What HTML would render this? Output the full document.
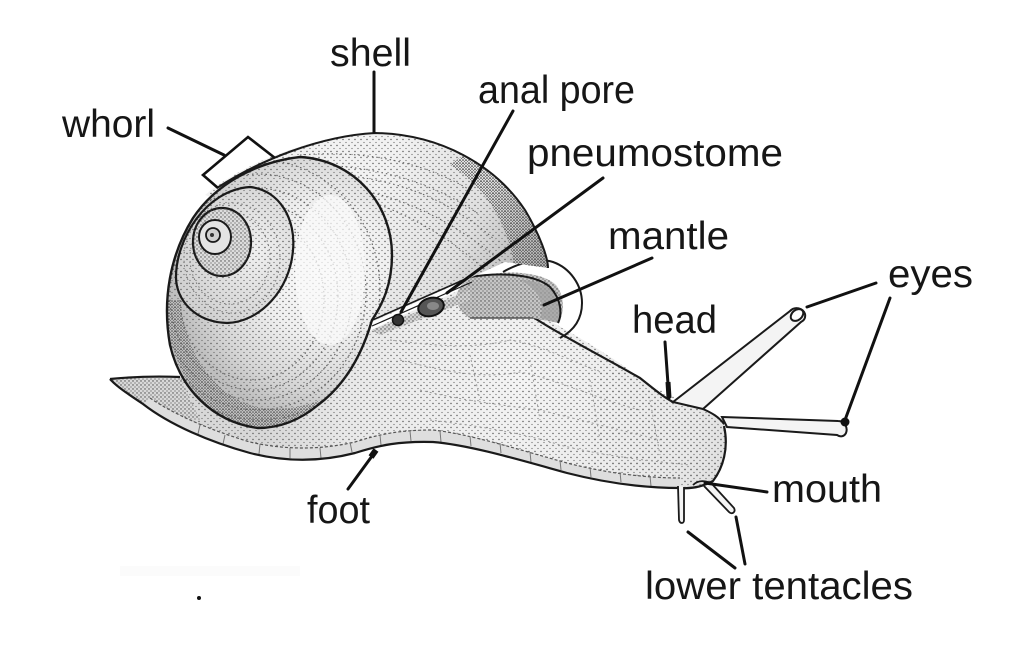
<!DOCTYPE html>
<html>
<head>
<meta charset="utf-8">
<style>
html,body{margin:0;padding:0;background:#fff;}
svg{display:block;}
text{font-family:"Liberation Sans",Arial,sans-serif;font-size:39px;fill:#161616;}
</style>
</head>
<body>
<svg width="1024" height="646" viewBox="0 0 1024 646" xmlns="http://www.w3.org/2000/svg">
<defs>
  <pattern id="dotL" width="6" height="6" patternUnits="userSpaceOnUse">
    <circle cx="1" cy="1.5" r="0.7" fill="#555"/>
    <circle cx="4" cy="4.5" r="0.6" fill="#666"/>
  </pattern>
  <pattern id="dotM" width="4" height="4" patternUnits="userSpaceOnUse">
    <circle cx="1" cy="1" r="0.7" fill="#444"/>
    <circle cx="3" cy="3" r="0.6" fill="#555"/>
  </pattern>
  <pattern id="dotD" width="3" height="3" patternUnits="userSpaceOnUse">
    <circle cx="1" cy="1" r="0.8" fill="#333"/>
    <circle cx="2.5" cy="2.4" r="0.5" fill="#444"/>
  </pattern>
  <linearGradient id="domeG" x1="380" y1="180" x2="548" y2="255" gradientUnits="userSpaceOnUse">
    <stop offset="0" stop-color="#f2f2f2"/>
    <stop offset="0.55" stop-color="#e0e0e0"/>
    <stop offset="1" stop-color="#b0b0b0"/>
  </linearGradient>
  <radialGradient id="ovalG" cx="325" cy="270" r="150" gradientUnits="userSpaceOnUse">
    <stop offset="0" stop-color="#fbfbfb"/>
    <stop offset="0.45" stop-color="#efefef"/>
    <stop offset="0.8" stop-color="#d6d6d6"/>
    <stop offset="1" stop-color="#bfbfbf"/>
  </radialGradient>
  <radialGradient id="whorl2G" cx="255" cy="250" r="80" gradientUnits="userSpaceOnUse">
    <stop offset="0" stop-color="#f0f0f0"/>
    <stop offset="1" stop-color="#d2d2d2"/>
  </radialGradient>
  <radialGradient id="bodyG" cx="520" cy="380" r="260" gradientUnits="userSpaceOnUse">
    <stop offset="0" stop-color="#f4f4f4"/>
    <stop offset="0.7" stop-color="#e8e8e8"/>
    <stop offset="1" stop-color="#d8d8d8"/>
  </radialGradient>
  <clipPath id="ovalClip">
    <path d="M300,157 C355,160 392,205 392,255 C392,285 382,305 372,320 C362,355 345,385 318,405 C300,420 280,428 258,428 C212,422 180,388 170,345 C162,300 170,255 193,218 C215,185 255,162 300,157 Z"/>
  </clipPath>
  <clipPath id="domeClip">
    <path d="M205,195 C240,165 310,136 375,133 C440,134 495,165 525,210 C540,235 548,258 548,268 L505,262 L470,278 L372,322 L392,255 Z"/>
  </clipPath>
</defs>

<rect width="1024" height="646" fill="#fff"/>

<!-- faint smudges bottom-left -->
<rect x="120" y="566" width="180" height="10" fill="#fbfbfb"/>
<circle cx="199" cy="598" r="2" fill="#111"/>

<!-- ================= BODY ================= -->
<path d="M110,379 C130,377 155,376 180,377 L372,330 C400,315 440,300 470,285 C500,282 530,300 545,318 C575,335 610,355 640,378 C655,390 665,398 675,402 L703,409 C712,413 719,417 724,424 C729,448 723,468 713,481 C702,487 692,489 680,488 C650,488 610,484 567,473 C520,460 470,445 433,442 C400,441 380,445 355,453 C320,462 285,462 250,453 C210,442 170,425 143,404 C128,394 116,386 110,379 Z"
      fill="url(#bodyG)" stroke="none"/>
<path d="M110,379 C130,377 155,376 180,377 L372,330 C400,315 440,300 470,285 C500,282 530,300 545,318 C575,335 610,355 640,378 C655,390 665,398 675,402 L703,409 C712,413 719,417 724,424 C729,448 723,468 713,481 C702,487 692,489 680,488 C650,488 610,484 567,473 C520,460 470,445 433,442 C400,441 380,445 355,453 C320,462 285,462 250,453 C210,442 170,425 143,404 C128,394 116,386 110,379 Z"
      fill="url(#dotL)"/>
<!-- head darker stipple -->
<path d="M600,360 C640,380 680,400 720,420 C728,450 722,470 712,482 C680,490 630,485 590,478 Z" fill="url(#dotL)" opacity="0.9"/>
<!-- tail -->
<path d="M110,379 C130,377 155,376 180,377 L200,420 C180,420 150,410 143,404 C128,394 116,386 110,379 Z" fill="#d8d8d8"/>
<path d="M110,379 C130,377 155,376 180,377 L200,420 C180,420 150,410 143,404 C128,394 116,386 110,379 Z" fill="url(#dotM)"/>
<!-- foot fringe band -->
<path d="M143,404 C170,425 210,442 250,453 C285,462 320,462 355,453 C380,445 400,441 433,442 C470,445 520,460 567,473 C610,484 650,488 680,488 L680,478 C650,478 610,474 567,463 C520,450 470,434 433,430 C400,430 380,434 355,442 C320,450 285,450 250,442 C210,430 175,415 150,398 Z" fill="#dedede"/>
<path d="M150,398 C175,415 210,430 250,442 C285,450 320,450 355,442 C380,434 400,430 433,430 C470,434 520,450 567,463 C610,474 650,478 680,478" fill="none" stroke="#555" stroke-width="1.2" stroke-dasharray="3 2"/>
<g stroke="#777" stroke-width="1">
  <line x1="200" y1="425" x2="198" y2="434"/><line x1="225" y1="435" x2="223" y2="444"/>
  <line x1="260" y1="444" x2="259" y2="454"/><line x1="290" y1="448" x2="290" y2="458"/>
  <line x1="320" y1="448" x2="321" y2="458"/><line x1="350" y1="442" x2="352" y2="452"/>
  <line x1="380" y1="435" x2="381" y2="445"/><line x1="410" y1="431" x2="411" y2="441"/>
  <line x1="440" y1="431" x2="441" y2="442"/><line x1="470" y1="436" x2="471" y2="446"/>
  <line x1="500" y1="443" x2="501" y2="453"/><line x1="530" y1="452" x2="531" y2="462"/>
  <line x1="560" y1="460" x2="561" y2="470"/><line x1="590" y1="467" x2="591" y2="477"/>
  <line x1="620" y1="472" x2="621" y2="482"/><line x1="650" y1="476" x2="651" y2="486"/>
</g>
<!-- body vein texture -->
<g fill="none" stroke="#999" stroke-width="1" stroke-dasharray="2 3">
  <path d="M400,360 C440,370 480,380 520,372 C560,380 600,400 640,410"/>
  <path d="M420,390 C460,400 500,405 540,410 C580,420 620,430 660,440"/>
  <path d="M430,420 C470,425 520,432 560,445 C600,455 640,460 690,465"/>
  <path d="M390,340 C430,345 470,350 510,340 C540,345 570,360 600,372"/>
  <path d="M470,355 L480,400 M530,360 L540,420 M590,380 L600,440 M650,400 L660,455"/>
</g>
<!-- body outline -->
<path d="M110,379 C130,377 155,376 180,377" fill="none" stroke="#1a1a1a" stroke-width="2.2"/>
<path d="M110,379 C116,386 128,394 143,404 C170,425 210,442 250,453 C285,462 320,462 355,453 C380,445 400,441 433,442 C470,445 520,460 567,473 C610,484 650,488 680,488 C692,489 702,487 713,481 C723,468 729,448 724,426" fill="none" stroke="#1a1a1a" stroke-width="2.2"/>
<path d="M533,317 C560,335 600,355 640,378 C655,390 665,398 673,402" fill="none" stroke="#1a1a1a" stroke-width="2.2"/>

<!-- upper eye tentacle -->
<path d="M673,402 L790,311 C795,306 803,308 805,314 C806,319 803,321 801,322 L703,409 Z" fill="#f4f4f4" stroke="#1a1a1a" stroke-width="2"/>
<ellipse cx="797" cy="315" rx="7" ry="5" transform="rotate(-40 797 315)" fill="#fff" stroke="#1a1a1a" stroke-width="2"/>
<path d="M703,409 C712,413 719,417 724,424" fill="none" stroke="#1a1a1a" stroke-width="2"/>
<!-- lower right tentacle -->
<path d="M722,417 L838,421 C845,421 848,428 846,433 C844,437 840,437 837,435 L727,427 Z" fill="#f4f4f4" stroke="#1a1a1a" stroke-width="2"/>
<circle cx="845" cy="422" r="4.5" fill="#111"/>
<!-- lower small tentacles -->
<path d="M678,486 L679,520 C680,524 684,524 684,520 L684,487" fill="#f4f4f4" stroke="#1a1a1a" stroke-width="1.8"/>
<path d="M704,486 L729,512 C732,515 736,512 734,508 L712,484" fill="#f4f4f4" stroke="#1a1a1a" stroke-width="1.8"/>
<path d="M693,485 C698,480 706,480 712,484" fill="none" stroke="#1a1a1a" stroke-width="1.8"/>

<!-- ================= MANTLE ================= -->
<path d="M470,278 C500,270 540,270 556,285 C566,298 564,315 558,323 L533,318 L470,318 C455,310 450,290 470,278 Z" fill="#c6c6c6"/>
<path d="M470,278 C500,270 540,270 556,285 C566,298 564,315 558,323 L533,318 L470,318 C455,310 450,290 470,278 Z" fill="url(#dotM)"/>
<path d="M520,280 C540,280 556,288 560,305 C562,315 558,323 558,323 L540,318 C545,305 540,290 520,280 Z" fill="#a0a0a0" opacity="0.7"/>
<path d="M470,277 C500,272 535,274 550,287 C562,300 562,315 558,323" fill="none" stroke="#1a1a1a" stroke-width="2"/>
<path d="M470,318 L533,318" fill="none" stroke="#555" stroke-width="1.5"/>
<path d="M503,272 C520,262 540,258 553,262 C570,268 582,285 582,303 C582,318 575,330 560,338" fill="none" stroke="#1a1a1a" stroke-width="2"/>

<!-- ================= SHELL ================= -->
<!-- dome -->
<path d="M205,195 C240,165 310,136 375,133 C440,134 495,165 525,210 C540,235 548,258 548,268 L505,262 L470,278 L372,322 L392,255 Z" fill="url(#domeG)"/>
<g clip-path="url(#domeClip)">
  <rect x="200" y="130" width="360" height="200" fill="url(#dotL)"/>
  <path d="M470,150 C510,175 540,220 548,268 L515,272 C510,230 490,190 450,165 Z" fill="url(#dotD)"/>
  <g fill="none" stroke="#666" stroke-width="1.1" stroke-dasharray="1.5 3">
    <path d="M300,155 C360,150 420,160 470,190"/>
    <path d="M310,165 C370,165 430,180 480,215"/>
    <path d="M340,175 C400,180 450,200 495,240"/>
    <path d="M360,190 C410,200 460,225 505,265"/>
    <path d="M380,205 C420,220 460,245 490,275"/>
  </g>
</g>
<path d="M217,188 C260,160 320,136 375,133 C440,134 495,165 525,210 C540,235 548,258 548,268" fill="none" stroke="#1a1a1a" stroke-width="2"/>
<!-- lip line -->
<path d="M368,322 L470,277" fill="none" stroke="#1a1a1a" stroke-width="1.6"/>
<path d="M372,326 L472,282" fill="none" stroke="#1a1a1a" stroke-width="1.2"/>
<path d="M372,330 L470,290 L470,300 L380,335 Z" fill="#d4d4d4"/>
<path d="M372,330 L470,290 L470,300 L380,335 Z" fill="url(#dotM)"/>

<!-- big body whorl oval -->
<path d="M300,157 C355,160 392,205 392,255 C392,285 382,305 372,320 C362,355 345,385 318,405 C300,420 280,428 258,428 C212,422 180,388 170,345 C162,300 170,255 193,218 C215,185 255,162 300,157 Z" fill="url(#ovalG)"/>
<g clip-path="url(#ovalClip)">
  <rect x="160" y="150" width="240" height="285" fill="url(#dotL)"/>
  <path d="M165,300 C170,380 210,425 260,430 C300,428 330,410 350,385 C320,405 280,415 250,405 C210,390 185,350 180,300 Z" fill="url(#dotD)" opacity="0.8"/>
  <g fill="none" stroke="#666" stroke-width="1.2" stroke-dasharray="1.5 3">
    <ellipse cx="260" cy="290" rx="120" ry="130"/>
    <ellipse cx="258" cy="292" rx="108" ry="118"/>
    <ellipse cx="256" cy="294" rx="96" ry="106"/>
    <ellipse cx="254" cy="296" rx="84" ry="94"/>
    <ellipse cx="252" cy="298" rx="72" ry="82"/>
  </g>
  <ellipse cx="330" cy="270" rx="35" ry="75" fill="#fafafa" opacity="0.75"/>
</g>
<path d="M300,157 C355,160 392,205 392,255 C392,285 382,305 372,320 C362,355 345,385 318,405 C300,420 280,428 258,428 C212,422 180,388 170,345 C162,300 170,255 193,218 C215,185 255,162 300,157 Z" fill="none" stroke="#1a1a1a" stroke-width="2.4"/>

<!-- second whorl -->
<path d="M250,187 C280,190 296,220 293,250 C290,290 260,322 227,323 C195,322 176,300 176,277 C176,240 205,190 250,187 Z" fill="url(#whorl2G)"/>
<path d="M250,187 C280,190 296,220 293,250 C290,290 260,322 227,323 C195,322 176,300 176,277 C176,240 205,190 250,187 Z" fill="url(#dotL)"/>
<g fill="none" stroke="#777" stroke-width="1" stroke-dasharray="1.5 3">
  <ellipse cx="232" cy="258" rx="48" ry="55"/>
  <ellipse cx="230" cy="258" rx="40" ry="46"/>
</g>
<path d="M250,187 C280,190 296,220 293,250 C290,290 260,322 227,323 C195,322 176,300 176,277 C176,240 205,190 250,187 Z" fill="none" stroke="#1a1a1a" stroke-width="2.2"/>
<!-- apex spiral -->
<ellipse cx="222" cy="242" rx="29" ry="34" fill="#dcdcdc" stroke="#1a1a1a" stroke-width="2.2"/>
<ellipse cx="222" cy="242" rx="29" ry="34" fill="url(#dotM)"/>
<ellipse cx="215" cy="237" rx="16" ry="17" fill="#e4e4e4" stroke="#1a1a1a" stroke-width="2"/>
<ellipse cx="213" cy="235" rx="7" ry="7" fill="#d0d0d0" stroke="#1a1a1a" stroke-width="1.8"/>
<circle cx="212" cy="235" r="2" fill="#333"/>

<!-- pores -->
<ellipse cx="431" cy="307" rx="13" ry="9" transform="rotate(-15 431 307)" fill="#555" stroke="#111" stroke-width="2"/>
<ellipse cx="433" cy="306" rx="6" ry="4" fill="#888"/>
<circle cx="398" cy="320" r="5.5" fill="#333" stroke="#111" stroke-width="1.5"/>

<!-- whorl bracket -->
<polyline points="218,188 203,175 248,137 275,158" fill="none" stroke="#111" stroke-width="2.6"/>

<!-- ================= LEADERS ================= -->
<g stroke="#111" stroke-width="3" stroke-linecap="round" fill="none">
  <line x1="168" y1="128" x2="224" y2="155"/>
  <line x1="374" y1="72" x2="374" y2="132"/>
  <line x1="513" y1="111" x2="401" y2="312"/>
  <line x1="603" y1="178" x2="447" y2="293"/>
  <line x1="652" y1="258" x2="544" y2="305"/>
  <line x1="876" y1="283" x2="807" y2="307"/>
  <line x1="890" y1="298" x2="845" y2="420"/>
  <line x1="665" y1="342" x2="669" y2="398"/>
  <line x1="767" y1="492" x2="705" y2="483"/>
  <line x1="688" y1="532" x2="735" y2="568"/>
  <line x1="736" y1="517" x2="745" y2="564"/>
  <line x1="348" y1="489" x2="375" y2="452"/>
</g>
<line x1="668" y1="382" x2="669" y2="398" stroke="#111" stroke-width="5"/>
<line x1="371" y1="457" x2="376" y2="450" stroke="#111" stroke-width="6"/>

<!-- ================= LABELS ================= -->
<text x="62" y="137" textLength="93" lengthAdjust="spacingAndGlyphs">whorl</text>
<text x="330" y="66" textLength="81" lengthAdjust="spacingAndGlyphs">shell</text>
<text x="478" y="103" textLength="157" lengthAdjust="spacingAndGlyphs">anal pore</text>
<text x="527" y="166" textLength="256" lengthAdjust="spacingAndGlyphs">pneumostome</text>
<text x="608" y="249" textLength="121" lengthAdjust="spacingAndGlyphs">mantle</text>
<text x="888" y="287" textLength="85" lengthAdjust="spacingAndGlyphs">eyes</text>
<text x="632" y="333" textLength="85" lengthAdjust="spacingAndGlyphs">head</text>
<text x="772" y="502" textLength="110" lengthAdjust="spacingAndGlyphs">mouth</text>
<text x="307" y="523" textLength="63" lengthAdjust="spacingAndGlyphs">foot</text>
<text x="645" y="599" textLength="268" lengthAdjust="spacingAndGlyphs">lower tentacles</text>
</svg>
</body>
</html>
